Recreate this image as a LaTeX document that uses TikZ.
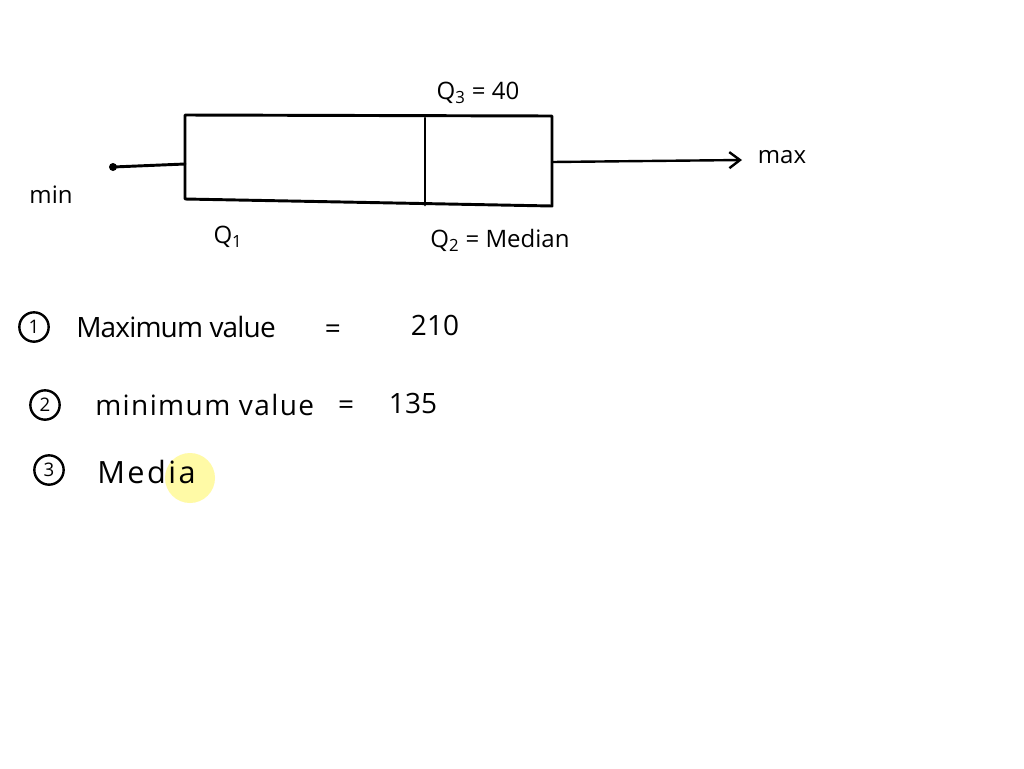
\documentclass[tikz,border=0pt]{standalone}
\usepackage{fontspec}
\setmainfont{Open Sans}
\usetikzlibrary{arrows.meta}
\newcommand{\sbs}[1]{\textsubscript{#1}}
\newcommand{\lsp}[2]{{\addfontfeature{LetterSpace=#1}#2}}
\begin{document}
\begin{tikzpicture}[x=0.75pt,y=-0.75pt,
  ink/.style={line width=2.2pt,black,line cap=round,line join=round},
  lbl/.style={font=\fontsize{18}{20}\selectfont,inner sep=0pt},
  item/.style={font=\fontsize{21}{24}\selectfont,inner sep=0pt},
  num/.style={circle,draw,line width=1.8pt,inner sep=1pt,minimum size=22pt,font=\fontsize{14}{15}\selectfont}]
\useasboundingbox[fill=white] (0,0) rectangle (1024,768);
% box corners
\coordinate (tl) at (185,115);
\coordinate (tr) at (552,116);
\coordinate (br) at (552,206);
\coordinate (bl) at (185,199);
\coordinate (mt) at (425,118);
\coordinate (mb) at (425,205);
\draw[ink] (tl) -- (tr) -- (br) -- (bl) -- cycle;
\draw[ink] (mt) -- (mb);
% whiskers
\coordinate (minpt) at (113,167);
\coordinate (lw) at (185,164);
\coordinate (rw) at (552,162);
\coordinate (tip) at (742,160);
\fill (minpt) circle (4);
\draw[ink] (minpt) -- (lw);
\node[lbl] (maxl) at (782,157) {max};
\draw[ink,line width=1.8pt,-{Straight Barb[length=8pt,width=12pt,line width=1.8pt]}] (rw) -- (tip);
\node[lbl] (minl) at (51,195) {min};
\node[lbl] (q3) at (478,93) {Q\sbs{3} = 40};
\node[lbl] (q1) at (228,237) {Q\sbs{1}};
\node[lbl] (q2) at (500,240) {Q\sbs{2} = Median};
% items
\node[num] (n1) at (34,327) {1};
\node[item,anchor=west] (t1) at (76,327) {\lsp{-3}{Maximum value}};
\node[item] (e1) at (333,332) {=};
\node[item] (v1) at (435,325) {210};
\node[num] (n2) at (45,405) {2};
\node[item,anchor=west] (t2) at (95,405) {\lsp{5}{minimum value}};
\node[item] (e2) at (346,408) {=};
\node[item] (v2) at (413,403) {135};
\node[num] (n3) at (49,470) {3};
\fill[yellow!35] (190,478) circle (25);
\node[item,anchor=west] (t3) at (97,472) {\lsp{8}{\fontsize{23}{26}\selectfont Media}};
\end{tikzpicture}
\end{document}
